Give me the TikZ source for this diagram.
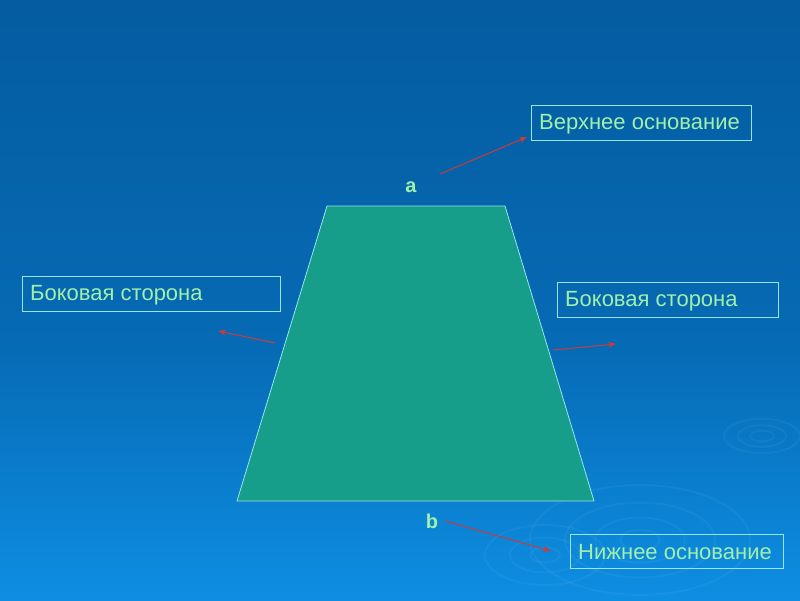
\documentclass[tikz,border=0pt]{standalone}
\usepackage{fontspec}
\setmainfont{Liberation Sans}
\usetikzlibrary{arrows.meta}
\definecolor{bgtop}{RGB}{5,92,160}
\definecolor{bgmid}{RGB}{6,106,180}
\definecolor{bgbot}{RGB}{14,142,226}
\definecolor{teal}{RGB}{22,158,138}
\definecolor{edge}{RGB}{150,230,235}
\definecolor{txt}{RGB}{160,240,170}
\definecolor{arr}{RGB}{200,60,60}
\tikzset{
  lbox/.style={draw=edge, line width=0.8pt, inner sep=0pt, minimum height=35pt, anchor=north west},
  ltext/.style={text=txt, font=\fontsize{22}{24}\selectfont, anchor=west, inner sep=0pt},
  vlabel/.style={text=txt, font=\bfseries\fontsize{20}{22}\selectfont},
  parrow/.style={draw=arr, line width=1pt, -{Stealth[length=8pt,width=6pt]}},
  ripple/.style={draw=white, draw opacity=0.045, line width=2pt}
}
\begin{document}
\begin{tikzpicture}[x=1pt,y=-1pt]
\useasboundingbox (0,0) rectangle (800,600);
\shade[top color=bgtop, bottom color=bgmid] (0,0) rectangle (800,340);
\shade[top color=bgmid, bottom color=bgbot] (0,339.5) rectangle (800,600);
% faint ripples
\foreach \r in {12,24,38} {\draw[ripple] (762,436) ellipse ({\r} and {\r*0.45});}
\foreach \r in {20,45,75,110} {\draw[ripple] (640,540) ellipse ({\r} and {\r*0.5});}
\foreach \r in {15,35,60} {\draw[ripple] (545,555) ellipse ({\r} and {\r*0.5});}
% trapezoid
\draw[fill=teal, draw=edge, line width=0.8pt] (327,206) coordinate (tl) -- (505,206) coordinate (tr) -- (594,501) coordinate (br) -- (237,501) coordinate (bl) -- cycle;
% boxes
\node[lbox, minimum width=220pt] (top) at (531,105) {};
\node[ltext] (toptxt) at (539,124.5) {Верхнее основание};
\node[lbox, minimum width=258pt] (left) at (22,276) {};
\node[ltext] (lefttxt) at (30,295) {Боковая сторона};
\node[lbox, minimum width=221pt] (right) at (557,282) {};
\node[ltext] (righttxt) at (565,301) {Боковая сторона};
\node[lbox, minimum width=213pt, minimum height=34pt] (bottom) at (570,534) {};
\node[ltext] (bottomtxt) at (578,552.5) {Нижнее основание};
% labels
\node[vlabel] (a) at (411,187) {a};
\node[vlabel] (b) at (432,521) {b};
% arrows
\coordinate (a0) at (440,174);
\coordinate (a1) at (527,137);
\coordinate (l0) at (275,343);
\coordinate (l1) at (218,331);
\coordinate (r0) at (553,350);
\coordinate (r1) at (616,344);
\coordinate (b0) at (445,521);
\coordinate (b1) at (551,551);
\draw[parrow] (a0) -- (a1);
\draw[parrow] (l0) -- (l1);
\draw[parrow] (r0) -- (r1);
\draw[parrow] (b0) -- (b1);
\end{tikzpicture}
\end{document}
